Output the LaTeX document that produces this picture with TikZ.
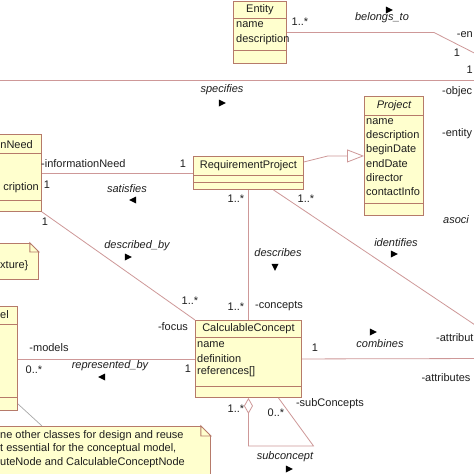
\documentclass[tikz,border=0pt]{standalone}
\usepackage{fontspec}
\setmainfont{Liberation Sans}
\usepackage{tikz}
\usetikzlibrary{arrows.meta,calc,shapes.geometric}
\definecolor{classfill}{RGB}{255,255,206}
\definecolor{classline}{RGB}{182,122,106}
\definecolor{assocline}{RGB}{206,152,152}
\definecolor{notelink}{RGB}{168,168,168}
\definecolor{umltext}{RGB}{30,30,30}
\tikzset{
  classbox/.style={draw=classline,fill=classfill,line width=0.9pt,
    anchor=north west,inner sep=0pt},
  notebox/.style={draw=classline,fill=classfill,line width=0.9pt,
    anchor=north west,inner sep=0pt},
  compline/.style={draw=classline,line width=0.9pt},
  umllabel/.style={font=\fontsize{11}{12}\selectfont,text=umltext,inner sep=1pt},
  classtitle/.style={umllabel},
  attrtext/.style={umllabel,anchor=west},
  assocname/.style={umllabel,font=\fontsize{11}{12}\selectfont\itshape},
  assoc/.style={draw=assocline,line width=0.8pt},
  dirtri/.style={isosceles triangle,isosceles triangle stretches,fill=black,
    inner sep=0pt,minimum width=7pt,minimum height=7pt}
}

\begin{document}
\begin{tikzpicture}[x=1pt,y=-1pt]
  \fill[white] (0,0) rectangle (474,474);
  \useasboundingbox (0,0) rectangle (474,474);
  \clip (0,0) rectangle (474,474);
  % ends of the connectors that leave the picture
  \coordinate (specL) at (-10,80);
  \coordinate (specR) at (490,80);
  \coordinate (belend) at (490,61);
  \coordinate (idend) at (490,335);
  \coordinate (cmbend) at (490,358.5);

  % classes
  \node[classbox,minimum width=53pt,minimum height=62pt] (entity) at (233,1) {};
  \node[classtitle] (entitytitle) at ($(entity.north)+(0,9)$) {Entity};
  \draw[compline] ($(entity.north west)+(0,17)$) -- ($(entity.north east)+(0,17)$);
  \draw[compline] ($(entity.south west)+(0,-13)$) -- ($(entity.south east)+(0,-13)$);
  \foreach \attr [count=\i] in {name,description}
    {\node[attrtext] (entityattr\i) at (235,{10+15*\i}) {\attr};}

  \node[classbox,minimum width=59pt,minimum height=119pt] (project) at (364,96) {};
  \node[classtitle,font=\fontsize{11}{12}\selectfont\itshape] (projecttitle)
    at ($(project.north)+(0,10)$) {Project};
  \draw[compline] ($(project.north west)+(0,19)$) -- ($(project.north east)+(0,19)$);
  \draw[compline] ($(project.south west)+(0,-12)$) -- ($(project.south east)+(0,-12)$);
  \foreach \attr [count=\i] in {name,description,beginDate,endDate,director,contactInfo}
    {\node[attrtext] (projectattr\i) at (365,{108+14*\i}) {\attr};}

  \node[classbox,minimum width=110pt,minimum height=33pt] (reqproject) at (193,156) {};
  \node[classtitle] (reqprojecttitle) at ($(reqproject.north)+(0,9.5)$) {RequirementProject};
  \draw[compline] ($(reqproject.north west)+(0,19)$) -- ($(reqproject.north east)+(0,19)$);
  \draw[compline] ($(reqproject.south west)+(0,-7)$) -- ($(reqproject.south east)+(0,-7)$);

  \node[classbox,minimum width=106pt,minimum height=77pt] (calconcept) at (195,320) {};
  \node[classtitle] (calconcepttitle) at ($(calconcept.north)+(0,9)$) {CalculableConcept};
  \draw[compline] ($(calconcept.north west)+(0,17)$) -- ($(calconcept.north east)+(0,17)$);
  \draw[compline] ($(calconcept.south west)+(0,-11)$) -- ($(calconcept.south east)+(0,-11)$);
  \foreach \attr [count=\i] in {name,definition,references[]}
    {\node[attrtext] (calconceptattr\i) at (196,{331.5+13.5*\i}) {\attr};}

  \node[classbox,minimum width=63pt,minimum height=77pt] (infoneed) at (-22,134) {};
  \node[classtitle,anchor=east] (infoneedtitle) at (34,145) {nNeed};
  \draw[compline] ($(infoneed.north west)+(0,19)$) -- ($(infoneed.north east)+(0,19)$);
  \draw[compline] ($(infoneed.south west)+(0,-11)$) -- ($(infoneed.south east)+(0,-11)$);
  \node[umllabel,anchor=east] (infoneedattr) at (40,188) {cription};

  \node[classbox,minimum width=39pt,minimum height=104pt] (model) at (-22,306) {};
  \node[classtitle,anchor=east] (modeltitle) at (10,315) {el};
  \draw[compline] ($(model.north west)+(0,18)$) -- ($(model.north east)+(0,18)$);
  \draw[compline] ($(model.south west)+(0,-13)$) -- ($(model.south east)+(0,-13)$);

  % notes
  \node[notebox,minimum width=60pt,minimum height=36pt] (ctxnote) at (-22,243) {};
  \fill[white] ($(ctxnote.north east)+(-9,0)$) -- ($(ctxnote.north east)+(0.6,-0.6)$)
    -- ($(ctxnote.north east)+(0,9)$) -- cycle;
  \draw[compline] ($(ctxnote.north east)+(-9,0)$) -- ($(ctxnote.north east)+(0,9)$)
    -- ($(ctxnote.north east)+(-9,9)$) -- cycle;
  \node[umllabel,anchor=west] (ctxtext) at (-1,266) {xture\}};

  \node[notebox,minimum width=232pt,minimum height=60pt] (modnote) at (-22,426) {};
  \fill[white] ($(modnote.north east)+(-10,0)$) -- ($(modnote.north east)+(0.6,-0.6)$)
    -- ($(modnote.north east)+(0,10)$) -- cycle;
  \draw[compline] ($(modnote.north east)+(-10,0)$) -- ($(modnote.north east)+(0,10)$)
    -- ($(modnote.north east)+(-10,10)$) -- cycle;
  \node[umllabel,anchor=west,align=left,font=\fontsize{11}{13.5}\selectfont]
    (modtext) at (-1,449)
    {ne other classes for design and reuse\\
     t essential for the conceptual model,\\
     uteNode and CalculableConceptNode};

  % connectors
  \draw[assoc] (specL) -- (specR);
  \draw[assoc] (entity.east) -- ++(147,0) -- (belend);
  \draw[assoc] (infoneed.east) -- (reqproject.west);
  \draw[assoc] (infoneed.south east) -- (calconcept.north west);
  \draw[assoc] (reqproject.south) -- (calconcept.north);
  \draw[assoc] ($(reqproject.south)+(25,0)$) -- (idend);
  \draw[assoc] (calconcept.east) -- (cmbend);
  \draw[assoc] (calconcept.west) -- (calconcept.west -| model.east);
  \draw[assoc,-{Triangle[open,length=17pt,width=13pt]}]
    ($(reqproject.east)+(0,-11)$) -- ($(project.west)+(-36,0)$) -- (project.west);
  \draw[assoc,{Diamond[open,length=16pt,width=9pt]}-]
    (calconcept.south) -- ++(0,48) -- ++(65,0) -- ($(calconcept.south)+(30,0)$);
  \draw[draw=notelink,line width=0.7pt]
    ($(model.south east)+(0,-7)$) -- ($(modnote.north west)+(64,0)$);

  % association names and roles
  \node[umllabel] (belmult) at (300,22) {1..*};
  \node[assocname] (belname) at (382,18) {belongs\_to};
  \node[dirtri] (beldir) at (388,10) {};
  \node[umllabel,anchor=east] (belrole) at (474,35) {-en};
  \node[umllabel] (belmultr) at (457,53) {1};
  \node[umllabel,anchor=east] (specmultr) at (474,70) {1};
  \node[assocname] (specname) at (222,90) {specifies};
  \node[dirtri] (specdir) at (221,103) {};
  \node[umllabel,anchor=west] (specrole) at (441,92) {-objec};
  \node[umllabel,anchor=west] (entrole) at (441,134) {-entity};
  \node[assocname,anchor=west] (asocname) at (442,220) {asoci};
  \node[umllabel,anchor=west] (attrrole) at (435,338) {-attribut};

  \node[umllabel,anchor=west] (needrole) at (40,164) {-informationNeed};
  \node[umllabel] (needmultr) at (183,164) {1};
  \node[umllabel] (needmultl) at (47,185) {1};
  \node[assocname] (satname) at (127,189) {satisfies};
  \node[dirtri,shape border rotate=180] (satdir) at (134,200) {};

  \node[umllabel] (descbymult) at (45,222) {1};
  \node[assocname] (descbyname) at (137,246) {described\_by};
  \node[dirtri] (descbydir) at (127,257) {};
  \node[umllabel] (focusmult) at (190,301) {1..*};
  \node[umllabel] (focusrole) at (173,327) {-focus};

  \node[umllabel] (descmultt) at (236,199) {1..*};
  \node[umllabel] (idmult) at (306,199) {1..*};
  \node[assocname] (descname) at (278,253) {describes};
  \node[dirtri,shape border rotate=270] (descdir) at (275,266) {};
  \node[umllabel] (descmultb) at (236,307) {1..*};
  \node[umllabel] (descrole) at (279,306) {-concepts};
  \node[assocname] (idname) at (396,243) {identifies};
  \node[dirtri] (iddir) at (393,254) {};

  \node[umllabel] (cmbmult) at (315,348) {1};
  \node[assocname] (cmbname) at (380,344) {combines};
  \node[dirtri] (cmbdir) at (372,332) {};
  \node[umllabel] (cmbrole) at (446,378) {-attributes};

  \node[umllabel] (reprole) at (49,348) {-models};
  \node[umllabel] (repmultl) at (34,370) {0..*};
  \node[assocname] (repname) at (110,366) {represented\_by};
  \node[dirtri,shape border rotate=180] (repdir) at (103,377) {};
  \node[umllabel] (repmultr) at (188,369) {1};

  \node[umllabel] (submultl) at (236,409) {1..*};
  \node[umllabel] (submultr) at (276,413) {0..*};
  \node[umllabel] (subrole) at (330,404) {-subConcepts};
  \node[assocname] (subname) at (285,457) {subconcept};
  \node[dirtri] (subdir) at (288,469) {};
\end{tikzpicture}
\end{document}
